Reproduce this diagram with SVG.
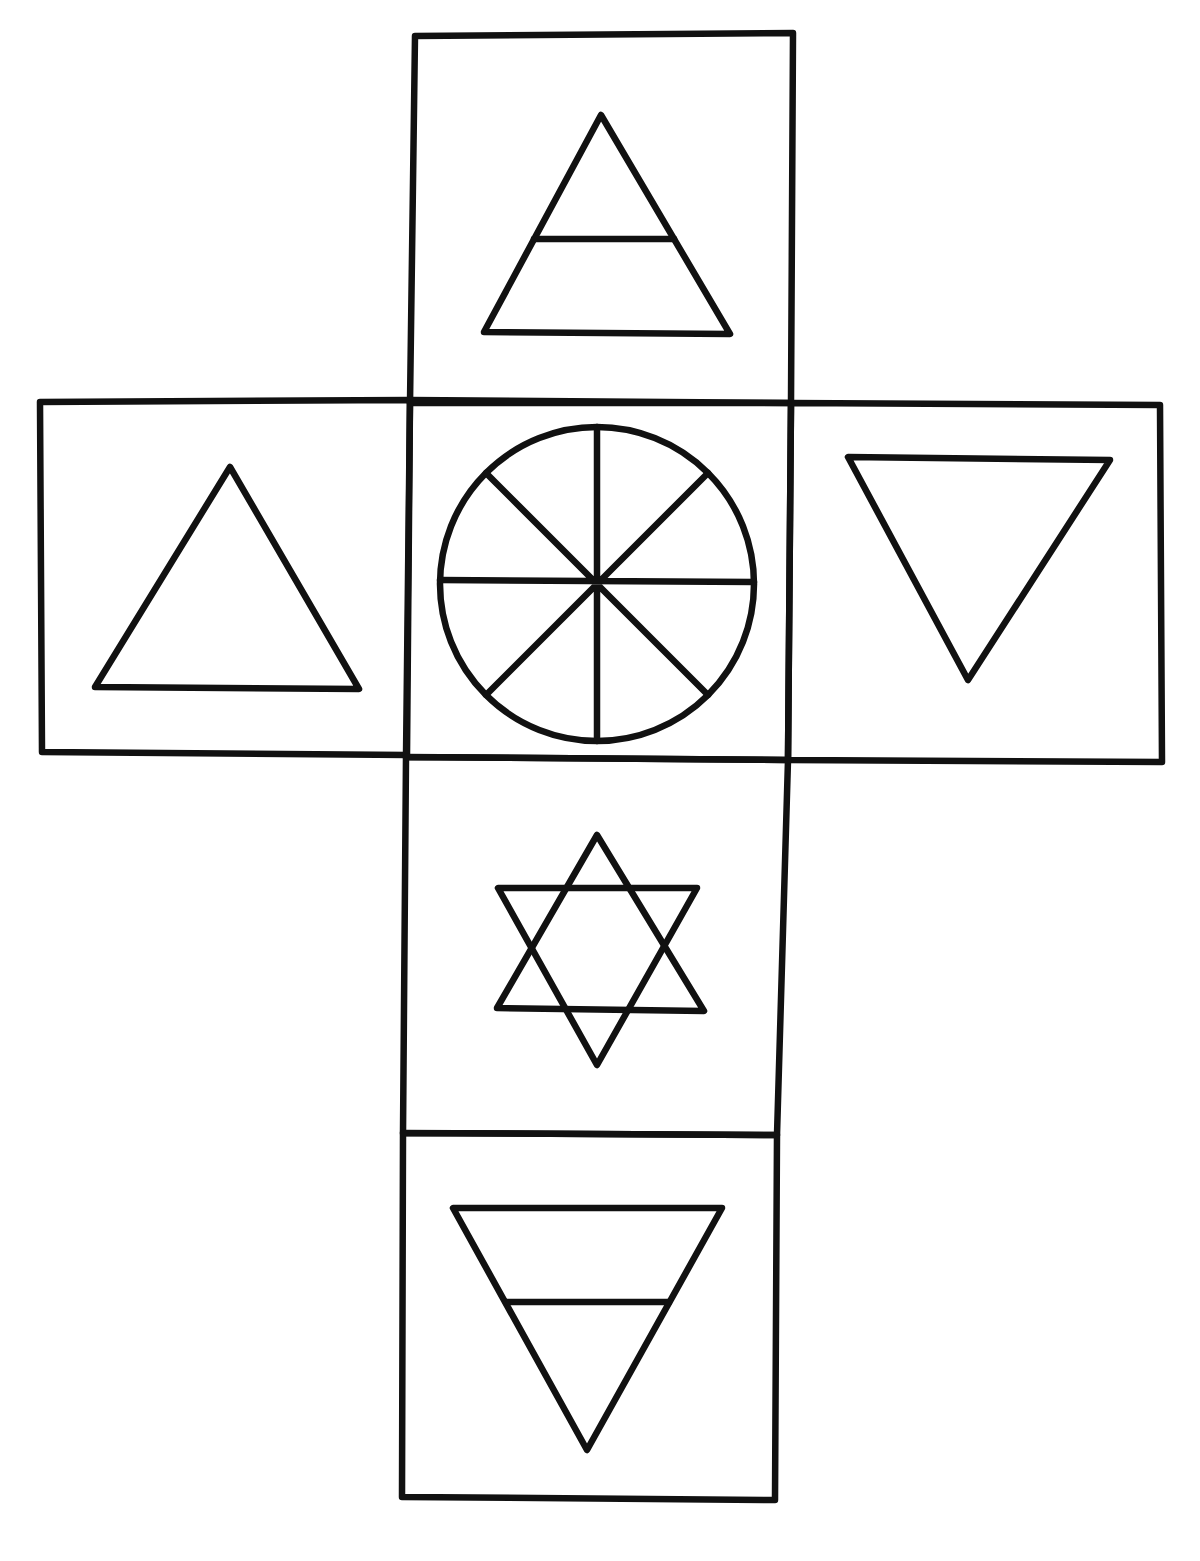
<svg xmlns="http://www.w3.org/2000/svg" width="1200" height="1561" viewBox="0 0 1200 1561">
<style>
.s{fill:none;stroke:#111;stroke-width:6.5;stroke-linejoin:round;stroke-linecap:round}
</style>
<rect width="1200" height="1561" fill="#fff"/>
<g id="top" class="s">
<path d="M415,36 L793,33 L791,403 L410,403 Z"/>
<path d="M601,115 L730,334 L484,332 Z"/>
<path d="M534,239 L674,239"/>
</g>
<g id="left" class="s">
<path d="M40,402 L410,400 L407,755 L42,752 Z"/>
<path d="M230,467 L359,689 L95,687 Z"/>
</g>
<g id="center" class="s">
<path d="M410,400 L791,403 L788,760 L406,757 Z"/>
<circle cx="597" cy="584" r="157"/>
<path d="M597,427 L597,741 M440,580 L754,582 M486,473 L708,695 M708,473 L486,695"/>
</g>
<g id="right" class="s">
<path d="M791,403 L1160,405 L1162,762 L788,760 Z"/>
<path d="M848,457 L1110,460 L968,680 Z"/>
</g>
<g id="below" class="s">
<path d="M406,757 L788,760 L777,1135 L403,1133 Z"/>
<path d="M597,835 L704,1011 L497,1008 Z"/>
<path d="M498,888 L697,888 L597,1065 Z"/>
</g>
<g id="bottom" class="s">
<path d="M403,1133 L777,1135 L775,1500 L402,1497 Z"/>
<path d="M453,1208 L722,1208 L587,1450 Z"/>
<path d="M506,1302 L669,1302"/>
</g>
</svg>
